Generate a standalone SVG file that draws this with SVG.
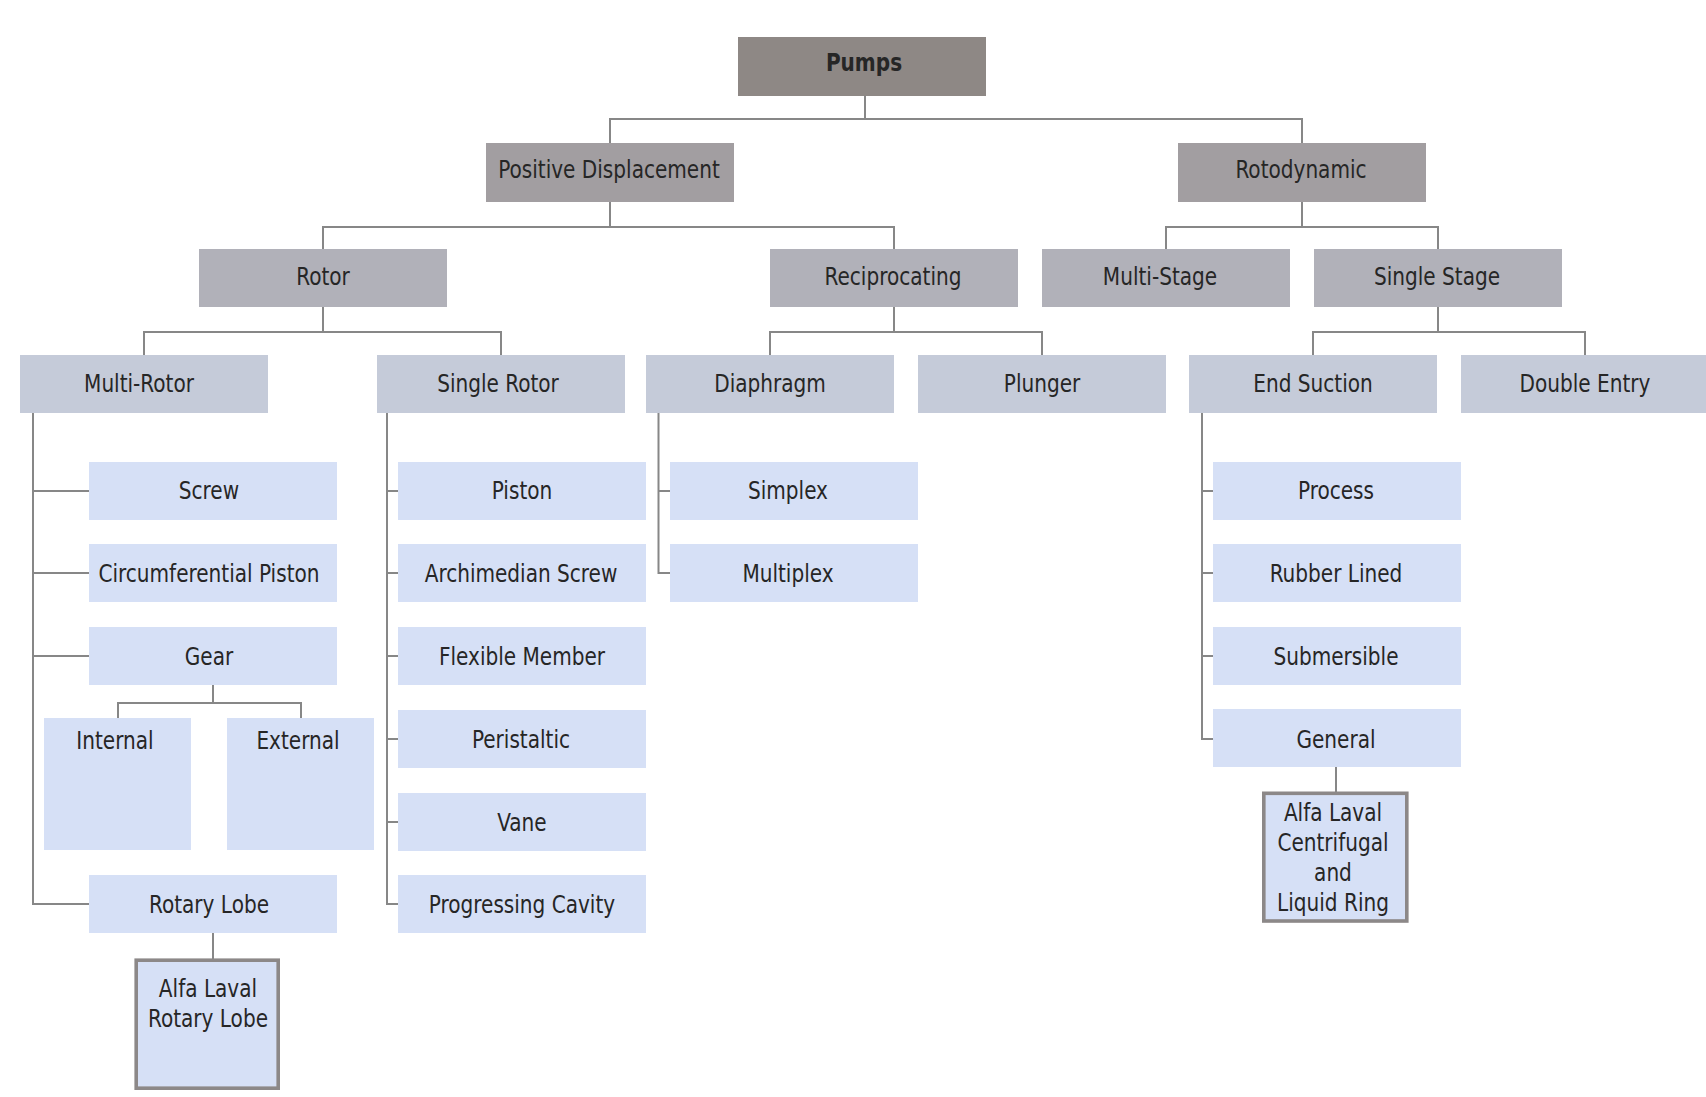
<svg xmlns="http://www.w3.org/2000/svg" width="1706" height="1097" viewBox="0 0 1706 1097">
<style>
  .t { font-family: "DejaVu Sans Condensed", "DejaVu Sans", sans-serif; font-stretch: condensed; font-size: 24px; fill: #262626; text-anchor: middle; transform-box: fill-box; transform-origin: center; transform: scaleX(0.93); }
  .b { font-weight: bold; }
  .l0 { fill: #8e8885; }
  .l1 { fill: #a29ea1; }
  .l2 { fill: #b1b1b9; }
  .l3 { fill: #c5cbd9; }
  .l4 { fill: #d6e0f6; }
  .al { fill: #d6e0f6; stroke: #8c8888; stroke-width: 3.6; }
  .c { fill: none; stroke: #878787; stroke-width: 2; }
</style>
<rect width="1706" height="1097" fill="#ffffff"/>
<g id="connectors">
  <path class="c" d="M865,96 V119 M610,143 V119 H1302 V143"/>
  <path class="c" d="M610,202 V227 M323,249 V227 H894 V249"/>
  <path class="c" d="M1302,202 V227 M1166,249 V227 H1438 V249"/>
  <path class="c" d="M323,307 V332 M144,355 V332 H501 V355"/>
  <path class="c" d="M894,307 V332 M770,355 V332 H1042 V355"/>
  <path class="c" d="M1438,307 V332 M1313,355 V332 H1585 V355"/>
  <path class="c" d="M33,413 V904 H89 M33,491 H89 M33,573 H89 M33,656 H89"/>
  <path class="c" d="M387,413 V904 H398 M387,491 H398 M387,573 H398 M387,656 H398 M387,739 H398 M387,822 H398"/>
  <path class="c" d="M658.5,413 V573 H670 M658.5,491 H670"/>
  <path class="c" d="M1202,413 V739 H1213 M1202,491 H1213 M1202,573 H1213 M1202,656 H1213"/>
  <path class="c" d="M213,685 V703 M118,718 V703 H301 V718"/>
  <path class="c" d="M213,933 V959"/>
  <path class="c" d="M1336,767 V792"/>
</g>
<g id="pumps"><rect class="l0" x="738" y="37" width="248" height="59"/><text class="t b" x="864" y="71">Pumps</text></g>
<g id="positive-displacement"><rect class="l1" x="486" y="143" width="248" height="59"/><text class="t" x="609" y="178">Positive Displacement</text></g>
<g id="rotodynamic"><rect class="l1" x="1178" y="143" width="248" height="59"/><text class="t" x="1301" y="178">Rotodynamic</text></g>
<g id="rotor"><rect class="l2" x="199" y="249" width="248" height="58"/><text class="t" x="323" y="285">Rotor</text></g>
<g id="reciprocating"><rect class="l2" x="770" y="249" width="248" height="58"/><text class="t" x="893" y="285">Reciprocating</text></g>
<g id="multi-stage"><rect class="l2" x="1042" y="249" width="248" height="58"/><text class="t" x="1160" y="285">Multi-Stage</text></g>
<g id="single-stage"><rect class="l2" x="1314" y="249" width="248" height="58"/><text class="t" x="1437" y="285">Single Stage</text></g>
<g id="multi-rotor"><rect class="l3" x="20" y="355" width="248" height="58"/><text class="t" x="139" y="392">Multi-Rotor</text></g>
<g id="single-rotor"><rect class="l3" x="377" y="355" width="248" height="58"/><text class="t" x="498" y="392">Single Rotor</text></g>
<g id="diaphragm"><rect class="l3" x="646" y="355" width="248" height="58"/><text class="t" x="770" y="392">Diaphragm</text></g>
<g id="plunger"><rect class="l3" x="918" y="355" width="248" height="58"/><text class="t" x="1042" y="392">Plunger</text></g>
<g id="end-suction"><rect class="l3" x="1189" y="355" width="248" height="58"/><text class="t" x="1313" y="392">End Suction</text></g>
<g id="double-entry"><rect class="l3" x="1461" y="355" width="248" height="58"/><text class="t" x="1585" y="392">Double Entry</text></g>
<g id="screw"><rect class="l4" x="89" y="462" width="248" height="58"/><text class="t" x="209" y="499">Screw</text></g>
<g id="circumferential-piston"><rect class="l4" x="89" y="544" width="248" height="58"/><text class="t" x="209" y="582">Circumferential Piston</text></g>
<g id="gear"><rect class="l4" x="89" y="627" width="248" height="58"/><text class="t" x="209" y="665">Gear</text></g>
<g id="internal"><rect class="l4" x="44" y="718" width="147" height="132"/><text class="t" x="115" y="749">Internal</text></g>
<g id="external"><rect class="l4" x="227" y="718" width="147" height="132"/><text class="t" x="298" y="749">External</text></g>
<g id="rotary-lobe"><rect class="l4" x="89" y="875" width="248" height="58"/><text class="t" x="209" y="913">Rotary Lobe</text></g>
<g id="alfa-laval-rotary-lobe"><rect class="al" x="136.2" y="960.2" width="142" height="128"/><text class="t" x="208" y="997"><tspan x="208">Alfa Laval</tspan><tspan x="208" dy="30.5">Rotary Lobe</tspan></text></g>
<g id="piston"><rect class="l4" x="398" y="462" width="248" height="58"/><text class="t" x="522" y="499">Piston</text></g>
<g id="archimedian-screw"><rect class="l4" x="398" y="544" width="248" height="58"/><text class="t" x="521" y="582">Archimedian Screw</text></g>
<g id="flexible-member"><rect class="l4" x="398" y="627" width="248" height="58"/><text class="t" x="522" y="665">Flexible Member</text></g>
<g id="peristaltic"><rect class="l4" x="398" y="710" width="248" height="58"/><text class="t" x="521" y="748">Peristaltic</text></g>
<g id="vane"><rect class="l4" x="398" y="793" width="248" height="58"/><text class="t" x="522" y="831">Vane</text></g>
<g id="progressing-cavity"><rect class="l4" x="398" y="875" width="248" height="58"/><text class="t" x="522" y="913">Progressing Cavity</text></g>
<g id="simplex"><rect class="l4" x="670" y="462" width="248" height="58"/><text class="t" x="788" y="499">Simplex</text></g>
<g id="multiplex"><rect class="l4" x="670" y="544" width="248" height="58"/><text class="t" x="788" y="582">Multiplex</text></g>
<g id="process"><rect class="l4" x="1213" y="462" width="248" height="58"/><text class="t" x="1336" y="499">Process</text></g>
<g id="rubber-lined"><rect class="l4" x="1213" y="544" width="248" height="58"/><text class="t" x="1336" y="582">Rubber Lined</text></g>
<g id="submersible"><rect class="l4" x="1213" y="627" width="248" height="58"/><text class="t" x="1336" y="665">Submersible</text></g>
<g id="general"><rect class="l4" x="1213" y="709" width="248" height="58"/><text class="t" x="1336" y="748">General</text></g>
<g id="alfa-laval-centrifugal"><rect class="al" x="1263.8" y="793.3" width="143" height="127.7"/><text class="t" x="1333" y="821.5"><tspan x="1333">Alfa Laval</tspan><tspan x="1333" dy="29.8">Centrifugal</tspan><tspan x="1333" dy="29.8">and</tspan><tspan x="1333" dy="29.8">Liquid Ring</tspan></text></g>
</svg>
